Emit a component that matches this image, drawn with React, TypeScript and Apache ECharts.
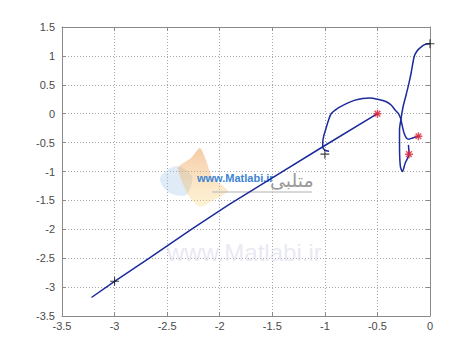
import React, { useEffect, useRef } from 'react';
import * as echarts from 'echarts';

// Axis ranges (tick step 0.5)
const xRange = [-3.5, 0];
const yRange = [-3.5, 1.5];
const tickStep = 0.5;

// Locus branches [x, y]
const branchLine: number[][] = [
  [-0.5, 0], [-1.0, -0.55], [-1.5, -1.11], [-1.92, -1.58], [-2.27, -2.0],
  [-2.67, -2.5], [-3.0, -2.9], [-3.22, -3.18],
];
const branchArc: number[][] = [
  [-0.96, -0.65], [-1.0, -0.63], [-1.02, -0.57], [-1.02, -0.5], [-1.01, -0.38],
  [-0.99, -0.26], [-0.97, -0.14], [-0.94, 0.0], [-0.88, 0.09], [-0.8, 0.17],
  [-0.72, 0.23], [-0.64, 0.265], [-0.57, 0.27], [-0.5, 0.25], [-0.42, 0.21],
  [-0.37, 0.15], [-0.33, 0.06], [-0.3, 0.0], [-0.28, -0.08], [-0.265, -0.2],
  [-0.246, -0.34], [-0.225, -0.42], [-0.2, -0.44], [-0.166, -0.42], [-0.13, -0.4],
  [-0.11, -0.39],
];
const branchLoop: number[][] = [
  [-0.205, -0.54], [-0.2, -0.7], [-0.237, -0.86], [-0.262, -1.0], [-0.28, -0.93],
  [-0.288, -0.74], [-0.29, -0.5], [-0.29, -0.28], [-0.275, -0.08], [-0.256, 0.12],
  [-0.224, 0.35], [-0.2, 0.53], [-0.18, 0.7], [-0.15, 0.99], [-0.125, 1.08],
  [-0.1, 1.13], [-0.056, 1.19], [-0.01, 1.21], [0, 1.21],
];
const starPoints: number[][] = [[-0.5, 0], [-0.11, -0.39], [-0.2, -0.7]];
const plusPoints: number[][] = [[-3.0, -2.9], [-1.0, -0.7], [0, 1.21]];

const plusPath =
  'path://M-0.6,-5L0.6,-5L0.6,-0.6L5,-0.6L5,0.6L0.6,0.6L0.6,5L-0.6,5L-0.6,0.6L-5,0.6L-5,-0.6L-0.6,-0.6Z';
const plusPathFat =
  'path://M-0.9,-5L0.9,-5L0.9,-0.9L5,-0.9L5,0.9L0.9,0.9L0.9,5L-0.9,5L-0.9,0.9L-5,0.9L-5,-0.9L-0.9,-0.9Z';

export default function App() {
  const ref = useRef<HTMLDivElement>(null);
  useEffect(() => {
    if (!ref.current) return;
    const chart = echarts.init(ref.current, undefined, { renderer: 'svg' });
    const axisColor = '#8a8a8a';
    const labelStyle = { color: '#4a4a4a', fontSize: 11, fontFamily: 'Arial, "Liberation Sans", sans-serif' };
    const lineColor = '#1c2a9c';
    const starColor = '#d9263c';
    const mkLine = (data: number[][], smooth: number | boolean) => ({
      type: 'line', data, showSymbol: false, symbol: 'none', smooth,
      lineStyle: { color: lineColor, width: 1.5 }, z: 3, silent: true,
    });
    chart.setOption({
      animation: false,
      backgroundColor: '#ffffff',
      grid: { left: 62, right: 44, top: 27, bottom: 39, containLabel: false },
      xAxis: [
        {
          type: 'value', min: xRange[0], max: xRange[1], interval: tickStep, position: 'bottom',
          axisLine: { show: true, onZero: false, lineStyle: { color: axisColor, width: 1 } },
          axisTick: { show: true, inside: true, length: 4, lineStyle: { color: axisColor } },
          axisLabel: { ...labelStyle, margin: 4, showMinLabel: true, showMaxLabel: true },
          splitLine: { show: true, lineStyle: { color: '#a8a8a8', type: [1, 2], width: 1 } },
        },
        {
          type: 'value', min: xRange[0], max: xRange[1], interval: tickStep, position: 'top',
          axisLine: { show: true, onZero: false, lineStyle: { color: axisColor, width: 1 } },
          axisTick: { show: true, inside: true, length: 4, lineStyle: { color: axisColor } },
          axisLabel: { show: false }, splitLine: { show: false },
        },
      ],
      yAxis: [
        {
          type: 'value', min: yRange[0], max: yRange[1], interval: tickStep, position: 'left',
          axisLine: { show: true, onZero: false, lineStyle: { color: axisColor, width: 1 } },
          axisTick: { show: true, inside: true, length: 4, lineStyle: { color: axisColor } },
          axisLabel: { ...labelStyle, margin: 7, showMinLabel: true, showMaxLabel: true },
          splitLine: { show: true, lineStyle: { color: '#a8a8a8', type: [1, 2], width: 1 } },
        },
        {
          type: 'value', min: yRange[0], max: yRange[1], interval: tickStep, position: 'right',
          axisLine: { show: true, onZero: false, lineStyle: { color: axisColor, width: 1 } },
          axisTick: { show: true, inside: true, length: 4, lineStyle: { color: axisColor } },
          axisLabel: { show: false }, splitLine: { show: false },
        },
      ],
      graphic: [
        { type: 'polygon', z: 1, silent: true, shape: { points: [[160, 178], [176, 166], [192, 176], [186, 195], [168, 192]], smooth: 0.3 }, style: { fill: 'rgba(150,190,225,0.3)' } },
        {
          type: 'polygon', z: 1, silent: true,
          shape: { points: [[178, 168], [191, 158], [200, 148], [206, 160], [212, 177], [228, 191], [214, 200], [200, 207], [188, 195]], smooth: 0.2 },
          style: {
            fill: new echarts.graphic.LinearGradient(0, 0, 0, 1, [
              { offset: 0, color: 'rgba(235,140,60,0.45)' },
              { offset: 1, color: 'rgba(250,215,120,0.3)' },
            ]),
          },
        },
        { type: 'line', z: 1, silent: true, shape: { x1: 212, y1: 192, x2: 312, y2: 192 }, style: { stroke: 'rgba(190,190,190,0.6)', lineWidth: 2 } },
        { type: 'text', z: 2, silent: true, x: 197, y: 178, style: { text: 'www.Matlabi.ir', fill: '#3d84d4', font: 'bold 11px Arial, "Liberation Sans", sans-serif', textVerticalAlign: 'middle' } },
        { type: 'text', z: 2, silent: true, x: 270, y: 180, style: { text: 'متلبی', fill: '#9a9a9a', font: '19px "DejaVu Sans", "Noto Sans", sans-serif', textVerticalAlign: 'middle' } },
        { type: 'text', z: 1, silent: true, x: 167, y: 252, style: { text: 'www.Matlabi.ir', fill: 'rgba(205,205,228,0.45)', font: '24px Arial, "Liberation Sans", sans-serif', textVerticalAlign: 'middle' } },
      ],
      series: [
        mkLine(branchLine, false),
        mkLine(branchArc, 0.3),
        mkLine(branchLoop, 0.3),
        { type: 'scatter', data: plusPoints, symbol: plusPath, symbolSize: 9, itemStyle: { color: '#111111' }, z: 4, silent: true },
        { type: 'scatter', data: starPoints, symbol: plusPathFat, symbolSize: 8, itemStyle: { color: starColor }, z: 5, silent: true },
        { type: 'scatter', data: starPoints, symbol: plusPathFat, symbolSize: 8, symbolRotate: 45, itemStyle: { color: starColor }, z: 5, silent: true },
      ],
    });
    return () => chart.dispose();
  }, []);
  return <div ref={ref} style={{ position: 'fixed', left: 0, top: 0, width: 474, height: 355, background: '#fff' }} />;
}
